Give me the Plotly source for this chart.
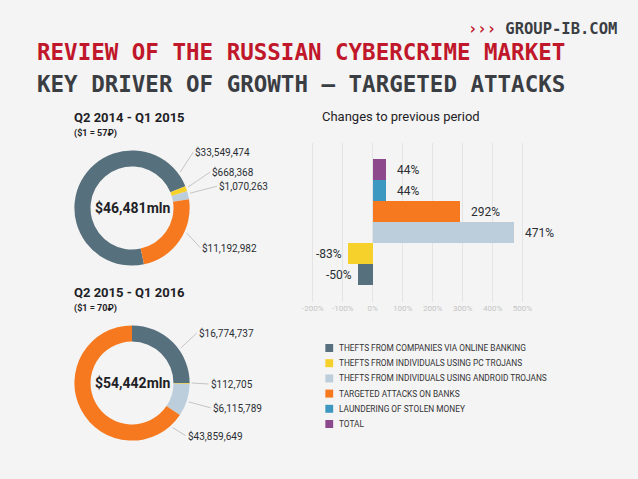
import math
import plotly.graph_objects as go

W, H = 638, 479

# ---------------- data ----------------
categories = [
    "THEFTS FROM COMPANIES VIA ONLINE BANKING",
    "THEFTS FROM INDIVIDUALS USING PC TROJANS",
    "THEFTS FROM INDIVIDUALS USING ANDROID TROJANS",
    "TARGETED ATTACKS ON BANKS",
    "LAUNDERING OF STOLEN MONEY",
    "TOTAL",
]
period1_values = [33549474, 668368, 1070263, 11192982]
period2_values = [16774737, 112705, 6115789, 43859649]
change_pct = [-50, -83, 471, 292, 44, 44]
periods = ["Q2 2014 - Q1 2015", "Q2 2015 - Q1 2016"]
rates = ["($1 = 57₽)", "($1 = 70₽)"]
totals = ["$46,481mln", "$54,442mln"]
x_ticks = [-200, -100, 0, 100, 200, 300, 400, 500]
x_tick_labels = ["%d%%" % t for t in x_ticks]

# ---------------- style ----------------
colors = ["#57707e", "#f6d02b", "#bccedb", "#f6791f", "#3c98c0", "#8c4a8c"]
BG = "#f4f4f4"
RED = "#c0182a"
BODY = "Roboto"
MONO = "DejaVu Sans Mono"

pie_centers = [(127, 208), (127, 383)]   # pixel centres
pie_r = 59
pie_rot = [168, 0]
# connector anchor angle (deg clockwise from top) and text offsets (px)
conn = [
    [(54, 13, -20), (70, 22, -15), (76, 27, -7), (114, 14, 15)],
    [(55, 16, -15), (90, 17, 1), (108, 22, 6), (137, 13, 8)],
]

def px(x):
    return x / W

def py(y):
    return 1 - y / H

fig = go.Figure()

annotations = []
shapes = []

# ---------------- donuts ----------------
for k, vals in enumerate([period1_values, period2_values]):
    cx, cy = pie_centers[k]
    fig.add_trace(go.Pie(
        labels=categories[:4], values=vals,
        marker=dict(colors=colors[:4], line=dict(width=0)),
        sort=False, direction="clockwise", rotation=pie_rot[k],
        hole=0.72, textinfo="none", showlegend=False,
        domain=dict(x=[px(cx - pie_r), px(cx + pie_r)],
                    y=[py(cy + pie_r), py(cy - pie_r)]),
    ))
    annotations.append(dict(x=px(cx), y=py(cy), xref="paper", yref="paper",
                            xanchor="center", yanchor="middle",
                            text="<b>%s</b>" % totals[k], showarrow=False,
                            font=dict(family=BODY, size=14, color="#1e2226")))
    annotations.append(dict(x=px(66), y=py(cy - 91), xref="paper", yref="paper",
                            xanchor="left", yanchor="middle",
                            text="<b>%s</b>" % periods[k], showarrow=False,
                            font=dict(family=BODY, size=13, color="#1e2226")))
    annotations.append(dict(x=px(66), y=py(cy - 75), xref="paper", yref="paper",
                            xanchor="left", yanchor="middle",
                            text="<b>%s</b>" % rates[k], showarrow=False,
                            font=dict(family=BODY, size=9, color="#1e2226")))
    for i, v in enumerate(vals):
        ang, dx, dy = conn[k][i]
        a = math.radians(ang)
        hx = cx + (pie_r + 2) * math.sin(a)
        hy = cy - (pie_r + 2) * math.cos(a)
        annotations.append(dict(
            x=px(hx), y=py(hy), xref="paper", yref="paper",
            ax=dx, ay=dy, axref="pixel", ayref="pixel",
            xanchor="left", yanchor="middle",
            text="${:,}".format(v), showarrow=True, arrowhead=0,
            arrowwidth=0.8, arrowcolor="#b8b8b8", standoff=0,
            font=dict(family=BODY, size=10, color="#2a2e33")))

# ---------------- bar chart ----------------
fig.add_trace(go.Bar(
    y=categories, x=change_pct, orientation="h",
    marker=dict(color=colors, line=dict(width=0)),
    width=1, showlegend=False, xaxis="x", yaxis="y",
))
for c, v in zip(categories, change_pct):
    annotations.append(dict(
        x=v, y=c, xref="x", yref="y", text="%d%%" % v, showarrow=False,
        xanchor="left" if v >= 0 else "right", xshift=9 if v >= 0 else -4,
        font=dict(family=BODY, size=12, color="#2a2e33")))

annotations.append(dict(x=px(320), y=py(116), xref="paper", yref="paper",
                        xanchor="left", yanchor="middle", showarrow=False,
                        text="Changes to previous period",
                        font=dict(family=BODY, size=13, color="#1e2226")))

# ---------------- legend ----------------
for i, (name, col) in enumerate(zip(categories, colors)):
    yc = 348 + i * 15.2
    shapes.append(dict(type="rect", xref="paper", yref="paper",
                       x0=px(325), x1=px(333), y0=py(yc + 4), y1=py(yc - 4),
                       fillcolor=col, line=dict(width=0)))
    annotations.append(dict(x=px(337), y=py(yc), xref="paper", yref="paper",
                            xanchor="left", yanchor="middle", showarrow=False,
                            text=name,
                            font=dict(family=BODY, size=8.3, color="#333")))

# ---------------- header ----------------
annotations.append(dict(x=px(28), y=py(52), xref="paper", yref="paper",
                        xanchor="left", yanchor="middle", showarrow=False,
                        text="<b>REVIEW OF THE RUSSIAN CYBERCRIME MARKET</b>",
                        font=dict(family=MONO, size=22.5, color=RED)))
annotations.append(dict(x=px(28), y=py(84), xref="paper", yref="paper",
                        xanchor="left", yanchor="middle", showarrow=False,
                        text="<b>KEY DRIVER OF GROWTH — TARGETED ATTACKS</b>",
                        font=dict(family=MONO, size=22.5, color="#3a3d42")))
annotations.append(dict(x=px(626), y=py(29), xref="paper", yref="paper",
                        xanchor="right", yanchor="middle", showarrow=False,
                        text="<b><span style='color:%s'>›››</span> GROUP-IB.COM</b>" % RED,
                        font=dict(family=MONO, size=15.5, color="#3a3d42")))

fig.update_layout(
    width=W, height=H, margin=dict(l=0, r=0, t=0, b=0),
    paper_bgcolor=BG, plot_bgcolor=BG,
    bargap=0, barmode="overlay",
    xaxis=dict(domain=[px(309), px(530)], range=[-210, 510],
               tickmode="array", tickvals=x_ticks, ticktext=x_tick_labels,
               showgrid=True, gridcolor="#e4e4e4", gridwidth=1,
               zeroline=False, showline=False, ticks="",
               tickfont=dict(family=BODY, size=8, color="#c4c4c4")),
    yaxis=dict(domain=[py(302), py(143)], type="category",
               categoryorder="array", categoryarray=categories,
               range=[-1.3, 6.26], showticklabels=False, showgrid=False,
               zeroline=False, showline=False),
    annotations=annotations, shapes=shapes,
    hovermode=False,
)

fig.write_html(
    "out.html",
    config={"displayModeBar": False},
    post_script="document.body.style.margin='0';"
                "document.documentElement.style.overflow='hidden';",
)
